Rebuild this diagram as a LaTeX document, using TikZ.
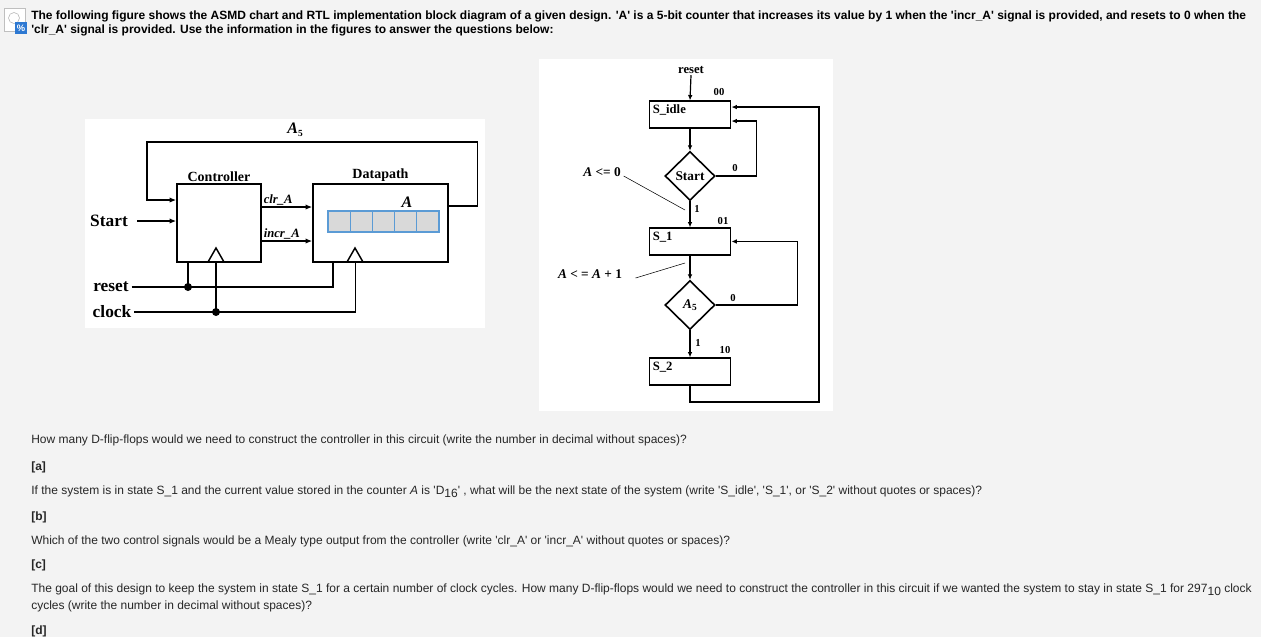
\documentclass[tikz,border=0pt]{standalone}
\usepackage{fontspec}
\setmainfont{Liberation Serif}
\newfontfamily\arial{Liberation Sans}
\usetikzlibrary{shapes.geometric,arrows.meta}
\definecolor{pagebg}{RGB}{243,243,243}
\definecolor{regblue}{RGB}{91,155,213}
\definecolor{regfill}{RGB}{217,217,217}
\definecolor{iconblue}{RGB}{45,120,210}
\newcommand{\apos}{\textquotesingle}
\newcommand{\afive}{\textit{A}\raisebox{-2pt}{\scriptsize 5}}

\begin{document}
\begin{tikzpicture}[x=0.75pt,y=-0.75pt,
  wire/.style={line width=1.1pt},
  sig/.style={wire,-{Latex[length=5pt,width=4pt]}},
  blk/.style={draw,line width=1.1pt,minimum width=63pt,minimum height=58.5pt,inner sep=0pt},
  blklbl/.style={font=\bfseries\fontsize{10.5}{12}\selectfont,inner sep=1pt},
  pin/.style={font=\bfseries\fontsize{13}{15}\selectfont,inner sep=2pt},
  siglbl/.style={font=\bfseries\itshape\fontsize{9.5}{11}\selectfont,inner sep=1pt},
  asm/.style={font=\bfseries\fontsize{9.5}{11}\selectfont,inner sep=1pt},
  small/.style={font=\bfseries\fontsize{8}{9}\selectfont,inner sep=1pt},
  mathlbl/.style={font=\bfseries\fontsize{10}{12}\selectfont,inner sep=1pt},
  stname/.style={font=\bfseries\fontsize{9.5}{10}\selectfont,anchor=north west,inner sep=3pt},
  stbox/.style={draw,line width=1.2pt,minimum width=61pt,minimum height=20pt,inner sep=0pt},
  decide/.style={diamond,draw,line width=1.2pt,minimum width=37.5pt,minimum height=36.75pt,inner sep=0pt,font=\bfseries\fontsize{10}{11}\selectfont},
  flow/.style={line width=0.9pt,-{Latex[length=4pt,width=3.5pt]}},
  intro/.style={anchor=base west,inner sep=0pt,font=\arial\bfseries\fontsize{9}{11}\selectfont},
  ques/.style={anchor=base west,inner sep=0pt,font=\arial\fontsize{9}{11}\selectfont,text=black!85},
  tag/.style={ques,font=\arial\bfseries\fontsize{9}{11}\selectfont}]
\useasboundingbox (0,0) rectangle (1261,637);
\fill[pagebg] (0,0) rectangle (1261,637);

% icon
\draw[black!25,fill=white] (4,8) rectangle (25,31);
\draw[black!30] (14,18) circle (5.5);
\fill[iconblue] (15,22) rectangle (27,34);
\node[text=white,inner sep=0pt,font=\arial\bfseries\fontsize{7}{7}\selectfont] (pct) at (21,28) {\%};

\node[intro] (intro1) at (31,19) {The following figure shows the ASMD chart and RTL implementation block diagram of a given design. \apos A\apos{} is a 5-bit counter that increases its value by 1 when the \apos incr\_A\apos{} signal is provided, and resets to 0 when the};
\node[intro] (intro2) at (31,33) {\apos clr\_A\apos{} signal is provided. Use the information in the figures to answer the questions below:};

% block diagram
\fill[white] (85,119) rectangle (485,328);
\node[blk] (ctrl) at (219,223) {};
\node[blk,minimum width=101.25pt] (dp) at (380.5,223) {};
\node[blklbl,above] (ctrllbl) at (ctrl.north) {Controller};
\node[blklbl,above] (dplbl) at (dp.north) {Datapath};
\node[mathlbl,font=\bfseries\fontsize{12}{14}\selectfont] (afivelbl) at (295,130) {\afive};
\node[mathlbl,font=\bfseries\fontsize{12}{14}\selectfont] (alab) at (407,202) {\textit{A}};
\foreach \i in {0,...,4}
  \draw[regblue,fill=regfill,line width=0.8pt] (328+22.2*\i,211) rectangle ++(22.2,21);
\draw[wire] (208,262) -- (216,248) -- (224,262);
\draw[wire] (347,262) -- (355,248) -- (363,262);

\node[pin] (start) at (109,221) {Start};
\node[pin] (reset) at (111,287) {reset};
\node[pin] (clock) at (112,312) {clock};
\draw[sig] ([xshift=5pt]start.east) -- (start -| ctrl.west);
\draw[sig] ([yshift=12pt]ctrl.east) -- ([yshift=12pt]dp.west)
  node[siglbl,pos=0,above right] (clr) {clr\_A};
\draw[sig] ([yshift=-13.5pt]ctrl.east) -- ([yshift=-13.5pt]dp.west)
  node[siglbl,pos=0,above right] (incr) {incr\_A};
\draw[sig] ([yshift=12.75pt]dp.east) -- ++(29,0) |- (147,142) |- ([yshift=17.25pt]ctrl.west);

\coordinate (rdot) at (188,287);
\coordinate (cdot) at (216,312);
\draw[wire] (reset.east) -| ([xshift=-35.6pt]dp.south);
\draw[wire] (clock.east) -| ([xshift=-18.8pt]dp.south);
\draw[wire] (ctrl.south -| rdot) -- (rdot);
\draw[wire] (ctrl.south -| cdot) -- (cdot);
\fill (rdot) circle (3pt);
\fill (cdot) circle (3pt);

% ASMD chart
\fill[white] (539,59) rectangle (833,411);
\node[asm] (rst) at (691,70) {reset};
\node[stbox,label={[stname]north west:S\_idle}] (sidle) at (690,114.5) {};
\node[decide] (dstart) at (690,176) {Start};
\node[stbox,label={[stname]north west:S\_1}] (s1) at (690,241.5) {};
\node[decide] (dafive) at (690,305) {\afive};
\node[stbox,label={[stname]north west:S\_2}] (s2) at (690,371.5) {};

\node[small] (c00) at (719,92) {00};
\node[small] (c01) at (723,221) {01};
\node[small] (c10) at (725,350) {10};
\node[small] (stzero) at (735,168) {0};
\node[small] (stone) at (697,209) {1};
\node[small] (afzero) at (733,298) {0};
\node[small] (afone) at (698,343) {1};

\draw[flow] (rst.south) -- (sidle.north);
\draw[flow] (sidle.south) -- (dstart.north);
\draw[flow] (dstart.south) -- (s1.north);
\draw[flow] (s1.south) -- (dafive.north);
\draw[flow] (dafive.south) -- (s2.north);
\draw[flow] (dstart.east) -- ++(41,0) |- ([yshift=-4.9pt]sidle.east);
\draw[flow] (dafive.east) -- ++(82,0) |- (s1.east);
\draw[flow] (s2.south) |- (819,402) |- ([yshift=5.6pt]sidle.east);

\node[mathlbl] (aset) at (602,172) {\textit{A} <= 0};
\node[mathlbl] (ainc) at (590,274) {\textit{A} < = \textit{A} + 1};
\coordinate (asettip) at (685,210);
\coordinate (ainctip) at (685,263);
\draw[line width=0.4pt] ([xshift=1pt,yshift=-3pt]aset.east) -- (asettip);
\draw[line width=0.4pt] ([xshift=9pt,yshift=-3pt]ainc.east) -- (ainctip);

% questions
\node[ques] (qone) at (31,443) {How many D-flip-flops would we need to construct the controller in this circuit (write the number in decimal without spaces)?};
\node[tag] (ta) at (31,470) {[a]};
\node[ques] (qtwo) at (31,494) {If the system is in state S\_1 and the current value stored in the counter \textit{A} is \apos D\raisebox{-2.5pt}{16}\apos{} , what will be the next state of the system (write \apos S\_idle\apos, \apos S\_1\apos, or \apos S\_2\apos{} without quotes or spaces)?};
\node[tag] (tb) at (31,520) {[b]};
\node[ques] (qthree) at (31,544) {Which of the two control signals would be a Mealy type output from the controller (write \apos clr\_A\apos{} or \apos incr\_A\apos{} without quotes or spaces)?};
\node[tag] (tc) at (31,568) {[c]};
\node[ques] (qfour) at (31,592) {The goal of this design to keep the system in state S\_1 for a certain number of clock cycles. How many D-flip-flops would we need to construct the controller in this circuit if we wanted the system to stay in state S\_1 for 297\raisebox{-2.5pt}{10} clock};
\node[ques] (qfourb) at (31,609) {cycles (write the number in decimal without spaces)?};
\node[tag] (td) at (31,634) {[d]};
\end{tikzpicture}
\end{document}
